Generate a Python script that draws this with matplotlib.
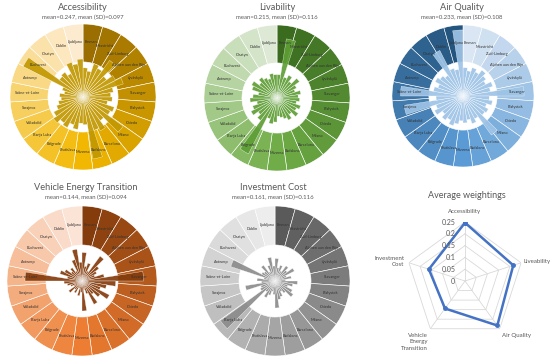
import numpy as np
import matplotlib
matplotlib.use("Agg")
import matplotlib.pyplot as plt
from matplotlib.colors import LinearSegmentedColormap

plt.rcParams['font.family'] = ['Lato', 'DejaVu Sans']

W, H = 550, 361

cities = ["Emmen", "Maastricht", "Zuid-Limburg", "Alphen aan den Rijn", "Jyväskylä",
          "Stavanger", "Białystok", "Oviedo", "Milano", "Barcelona", "Badalona",
          "Manresa", "Bratislava", "Belgrade", "Banja Luka", "Valladolid", "Sarajevo",
          "Saône-et-Loire", "Antwerp", "Bucharest", "Olsztyn", "Dublin", "Ljubljana"]

# inner bars, clockwise from 12 o'clock, share of outer radius
accessibility = [0.40, 0.36, 0.48, 0.44, 0.62, 0.40, 0.50, 0.58, 0.42, 0.38,
                 0.40, 0.34, 0.45, 0.42, 0.68, 0.40, 0.52, 0.48, 0.86, 0.38,
                 0.36, 0.45, 0.40, 0.47, 0.44, 0.50, 0.45, 0.38, 0.34, 0.30,
                 0.32, 0.26, 0.30, 0.92, 0.40, 0.42, 0.36, 0.50, 0.46, 0.52]
livability = [0.32, 0.82, 0.30, 0.35, 0.28, 0.38, 0.30, 0.26, 0.33, 0.29,
              0.31, 0.27, 0.34, 0.30, 0.36, 0.28, 0.34, 0.30, 0.27, 0.25,
              0.33, 0.36, 0.30, 0.86, 0.38, 0.32, 0.40, 0.35, 0.28, 0.37,
              0.33, 0.26, 0.36, 0.39, 0.30, 0.35, 0.31, 0.28, 0.34, 0.32]
air_quality = [0.40, 0.36, 0.42, 0.38, 0.45, 0.40, 0.36, 0.44, 0.39, 0.86,
               0.37, 0.42, 0.35, 0.40, 0.38, 0.68, 0.36, 0.41, 0.34, 0.38,
               0.35, 0.40, 0.44, 0.38, 0.42, 0.36, 0.45, 0.40, 0.84, 0.38,
               0.88, 0.42, 0.37, 0.44, 0.40, 0.36, 0.72, 0.41, 0.38, 0.93]
vehicle = [0.38, 0.20, 0.25, 0.15, 0.41, 0.28, 0.22, 0.18, 0.30, 0.82,
           0.45, 0.33, 0.26, 0.41, 0.30, 0.22, 0.35, 0.18, 0.12, 0.40,
           0.15, 0.20, 0.10, 0.18, 0.14, 0.22, 0.12, 0.16, 0.20, 0.24,
           0.76, 0.20, 0.31, 0.26, 0.18, 0.22, 0.15, 0.30, 0.43, 0.25]
investment = [0.30, 0.18, 0.22, 0.15, 0.25, 0.20, 0.29, 0.16, 0.22, 0.14,
              0.30, 0.24, 0.18, 0.26, 0.30, 0.20, 0.16, 0.22, 0.25, 0.36,
              0.18, 0.14, 0.20, 0.25, 0.18, 0.90, 0.22, 0.20, 0.40, 0.18,
              0.24, 0.15, 0.62, 0.20, 0.18, 0.26, 0.14, 0.22, 0.32, 0.20]

titles = ["Accessibility", "Livability", "Air Quality", "Vehicle Energy Transition", "Investment Cost"]
subtitles = ["mean=0.247, mean (SD)=0.097", "mean=0.215, mean (SD)=0.116",
             "mean=0.233, mean (SD)=0.108", "mean=0.144, mean (SD)=0.094",
             "mean=0.161, mean (SD)=0.116"]

criteria = ["Accessibility", "Liveability", "Air Quality", "Vehicle\nEnergy\nTransition", "Investment\nCost"]
weights = [0.247, 0.215, 0.233, 0.144, 0.161]
levels = [0.05, 0.10, 0.15, 0.20, 0.25]
level_labels = ["0", "0.05", "0.1", "0.15", "0.2", "0.25"]

# (center x, center y, radius) in px, ring colours first->mid->last, bar colour
panels = [
    (accessibility, (83, 97, 73), ["#9A6E00", "#F2B800", "#FDEBD0"], "#C29800", (83, 8, 17)),
    (livability, (277, 98, 73), ["#3A6B1F", "#70AD47", "#DDE9D5"], "#5E9E35", (277, 8, 17)),
    (air_quality, (463, 96, 71), ["#DAE6F3", "#5B9BD5", "#24557F"], "#9DC3E6", (462, 8, 17)),
    (vehicle, (82, 281, 75), ["#843C0C", "#ED7D31", "#FBE3D6"], "#843C0C", (86, 188, 197)),
    (investment, (275, 281, 75), ["#5A5A5A", "#A5A5A5", "#EDEDED"], "#8C8C8C", (273, 188, 197)),
]

fig = plt.figure(figsize=(W / 100, H / 100), dpi=100)


def polar_at(cx, cy, r):
    ax = fig.add_axes([(cx - r) / W, 1 - (cy + r) / H, 2 * r / W, 2 * r / H], projection="polar")
    ax.set_theta_zero_location("N")
    ax.set_theta_direction(-1)
    ax.grid(False)
    ax.set_xticks([])
    ax.set_yticks([])
    ax.spines["polar"].set_visible(False)
    return ax


n = len(cities)
seg = 2 * np.pi / n
hole = 0.48
for (vals, (cx, cy, r), cols, bar_col, (tx, ty, sy)), title, sub in zip(panels, titles, subtitles):
    ax = polar_at(cx, cy, r)
    cmap = LinearSegmentedColormap.from_list("ring", cols)
    theta = seg * (np.arange(n) + 0.5)
    ax.bar(theta, 1 - hole, width=seg, bottom=hole,
           color=[cmap(i / (n - 1)) for i in range(n)], edgecolor="white", linewidth=0.4)
    for t, name in zip(theta, cities):
        ax.text(t, 0.76, name, ha="center", va="center", fontsize=2.8, color="#333333")
    m = len(vals)
    bt = np.deg2rad(360 / m) * (np.arange(m) + 0.5)
    ax.bar(bt, vals, width=np.deg2rad(360 / m), bottom=0, color=bar_col,
           edgecolor="white", linewidth=0.25, alpha=0.92)
    ax.set_ylim(0, 1)
    fig.text(tx / W, 1 - ty / H, title, ha="center", va="center", fontsize=6.7, color="#595959")
    fig.text(tx / W, 1 - sy / H, sub, ha="center", va="center", fontsize=4.3, color="#595959")

# radar chart
rax = polar_at(465, 281, 59)
ang = np.arange(len(criteria)) * 2 * np.pi / len(criteria)
closed = np.append(ang, ang[0])
for lv in levels:
    rax.plot(closed, [lv] * len(closed), color="#D9D9D9", lw=0.6)
for a in ang:
    rax.plot([a, a], [0, levels[-1]], color="#D9D9D9", lw=0.6)
rax.plot(closed, weights + weights[:1], color="#4472C4", lw=1.8,
         marker="o", markersize=2.5)
rax.set_ylim(0, 0.25)
for lv, lab in zip([0] + levels, level_labels):
    rax.annotate(lab, xy=(0, lv), xytext=(-7, 0), textcoords="offset points",
                 ha="right", va="center", fontsize=5, color="#595959")
label_pos = [(0.282, "center", "bottom"), (0.262, "left", "center"), (0.27, "left", "top"),
             (0.27, "right", "top"), (0.27, "right", "center")]
for a, name, (rr, ha, va) in zip(ang, criteria, label_pos):
    rax.text(a, rr, name, ha=ha, va=va, fontsize=4.4, color="#595959", linespacing=1.4)
fig.text(467 / W, 1 - 196 / H, "Average weightings", ha="center", va="center",
         fontsize=6.5, color="#595959")

fig.savefig("out.png", dpi=100, facecolor="white")
